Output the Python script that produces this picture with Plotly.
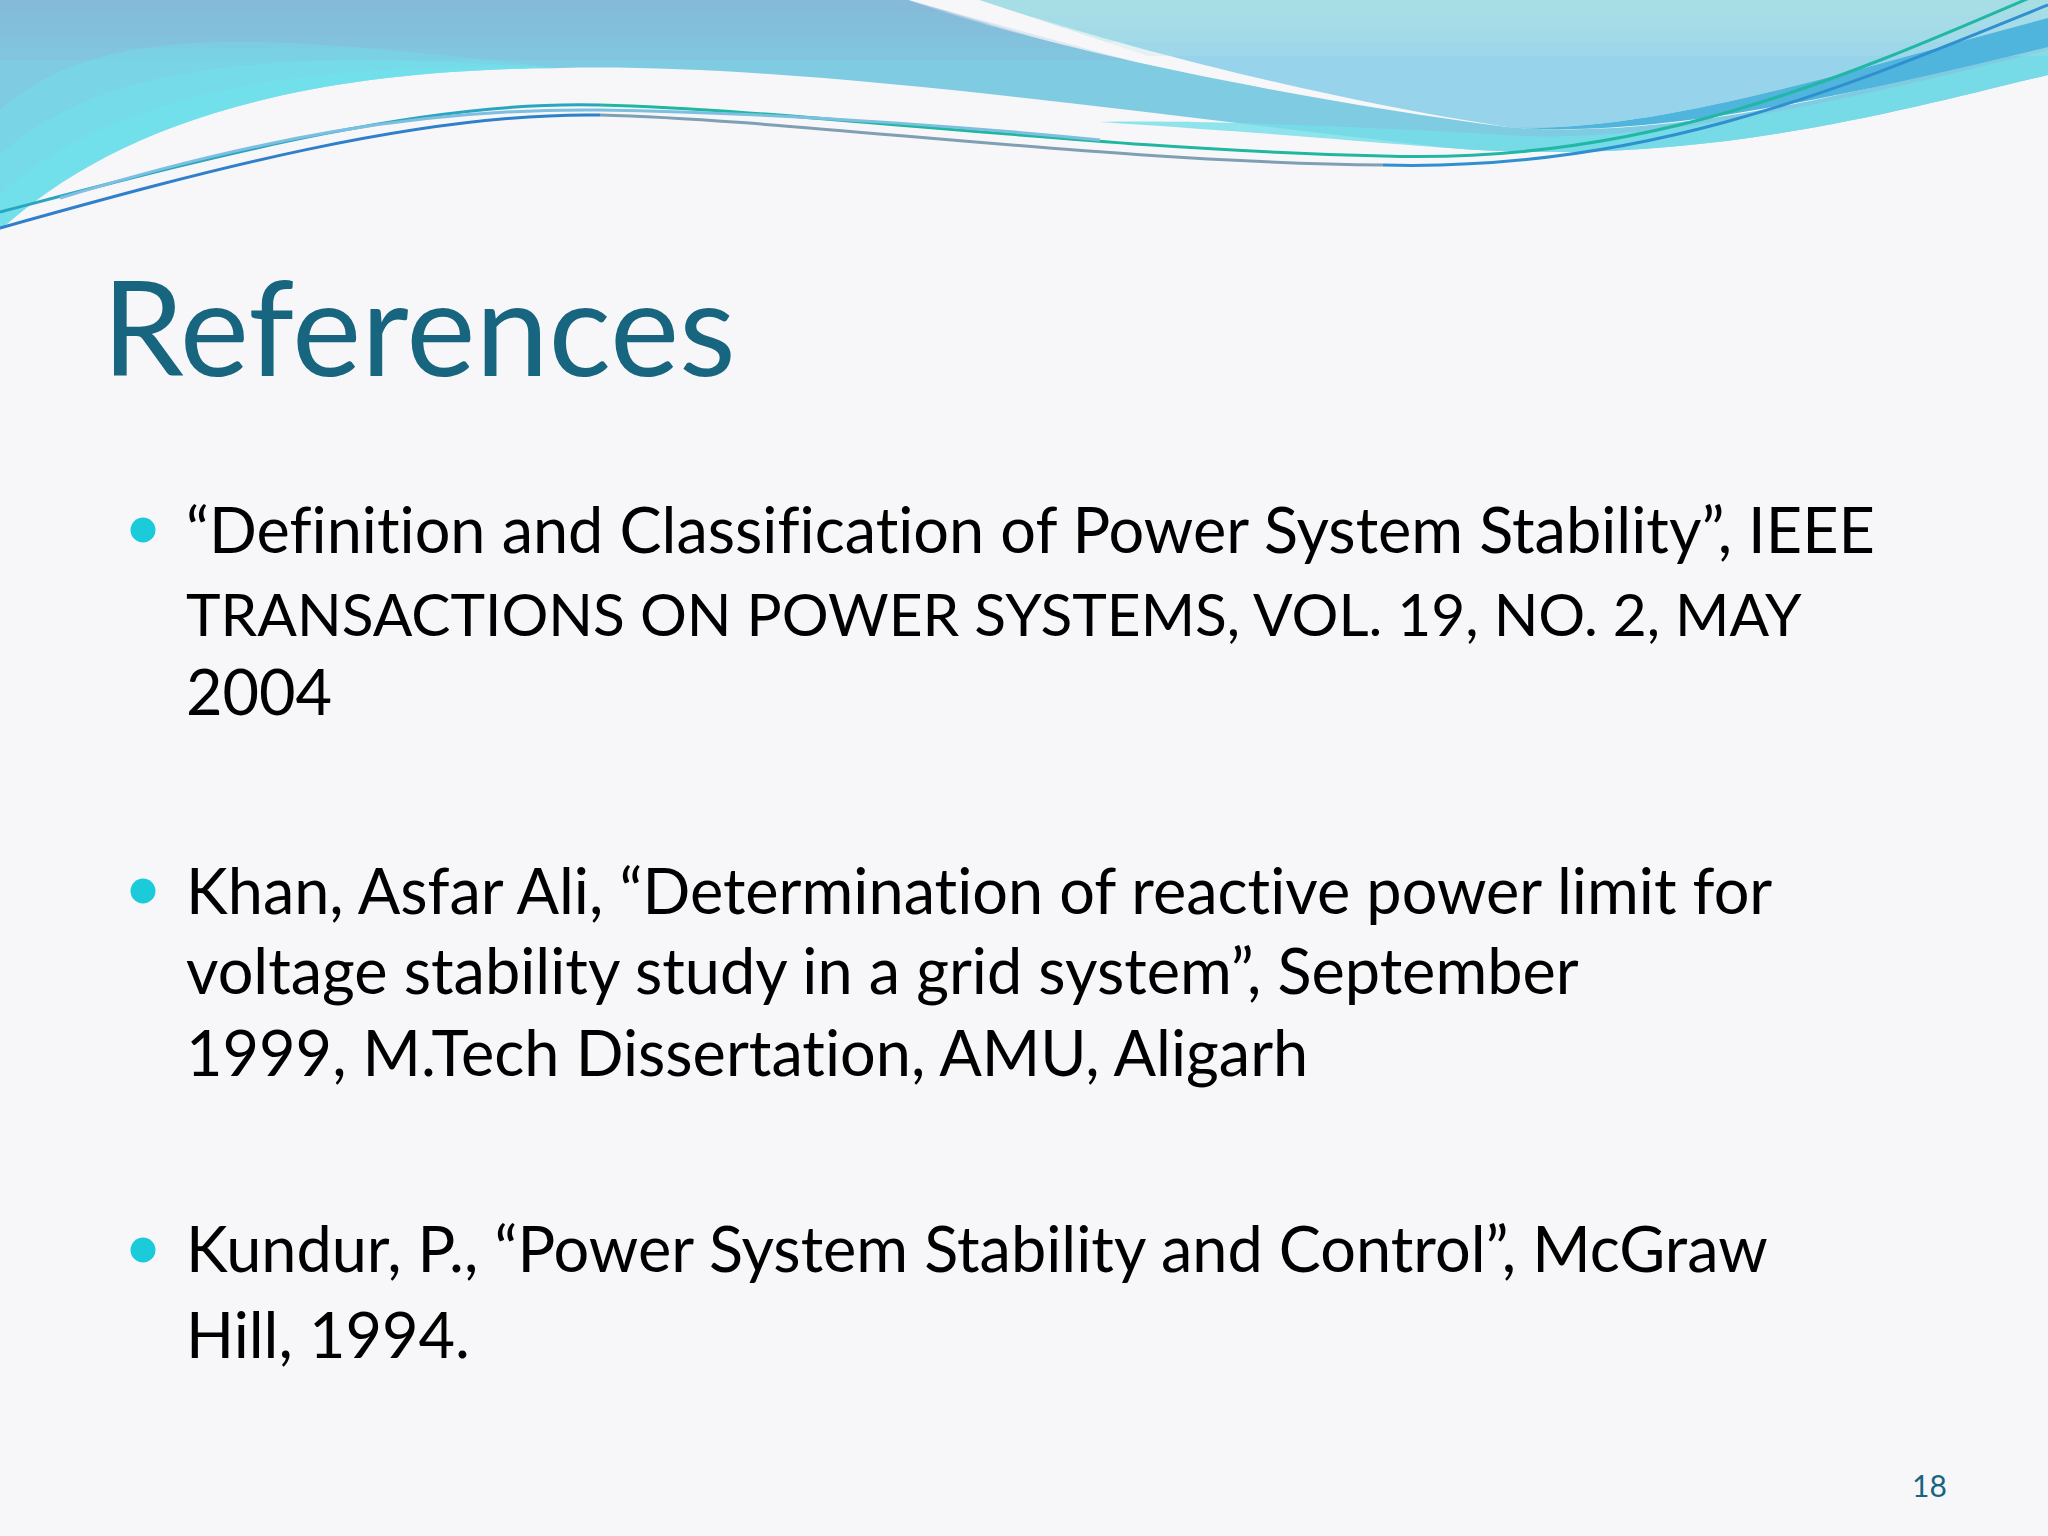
import plotly.graph_objects as go

# slide content
title = "References"
refs = [
    ["\u201cDefinition and Classification of Power System Stability\u201d, IEEE",
     "TRANSACTIONS ON POWER SYSTEMS, VOL. 19, NO. 2, MAY",
     "2004"],
    ["Khan, Asfar Ali, \u201cDetermination of reactive power limit for",
     "voltage stability study in a grid system\u201d, September",
     "1999, M.Tech Dissertation, AMU, Aligarh"],
    ["Kundur, P., \u201cPower System Stability and Control\u201d, McGraw",
     "Hill, 1994."],
]
page_no = "18"

# baselines of each text line (px from top of slide)
line_base = [[553, 636, 715], [914, 994, 1076], [1272, 1358]]
bullet_y = [530, 891, 1250]

W, H = 2048, 1536
body_size = 63
caps_size = 58.6
title_size = 131
teal = "#17657f"

fig = go.Figure()

# bullets
fig.add_trace(go.Scatter(x=[143] * len(bullet_y), y=bullet_y, mode="markers",
                         marker=dict(size=25, color="#1ccbd9", line=dict(width=0)),
                         hoverinfo="skip", showlegend=False))

# ---- top wave decoration ----
shapes = []


def blob(path, color, opacity=1.0):
    shapes.append(dict(type="path", layer="below", path=path, fillcolor=color,
                       opacity=opacity, line=dict(width=0)))


# big left wave incl. cyan band
blob("M0,0 L908,0 C1050,50 1300,100 1507,127 C1650,140 1850,100 2048,40 "
     "L2048,75 C1900,110 1700,168 1450,148 C1150,115 800,62 560,68 "
     "C260,70 100,140 0,230 Z", "#7fcbe1")
# darker blue-grey toward the top (stepped, soft)
for h, xe in [(12, 950), (24, 990), (36, 1030), (48, 1072), (60, 1128)]:
    blob(f"M0,0 L908,0 L{xe},{h} L0,{h} Z", "#8ab4d4", 0.22)
# cyan toward the lower left, hugging the white edge
for d in [35, 75, 120]:
    blob(f"M0,230 C100,140 260,70 560,68 C260,{70 - d * 0.3:.0f} 100,{140 - d} 0,{230 - d} Z",
         "#6eeaf3", 0.3)
# cyan band under the right wave
blob("M1100,122 C1300,135 1400,145 1450,148 C1700,168 1900,110 2048,75 "
     "L2048,50 C1850,100 1650,145 1507,135 C1350,126 1200,120 1100,122 Z", "#74dde8", 0.8)

# right light wave
blob("M980,0 C1100,40 1300,95 1507,127 C1650,135 1850,70 2048,18 L2048,0 Z", "#98d3ec")
for h in [14, 28, 42, 56]:
    blob(f"M980,0 L{980 + 3 * h},{h} L2048,{h} L2048,0 Z", "#aee3e4", 0.25)
# darker ribbon
blob("M1507,127 C1650,135 1850,70 2048,18 L2048,47 C1850,95 1650,140 1507,127 Z", "#4fb5dc")

# thin swooping lines
lines = [
    ("M0,212 C200,160 420,100 600,105", "#2aa5bf"),
    ("M600,105 C800,110 1100,150 1383,156", "#1fb7a0"),
    ("M1383,156 C1650,165 1850,75 2048,-10", "#22b7a4"),
    ("M0,228 C200,172 420,112 600,115", "#2f7fcb"),
    ("M600,115 C800,120 1100,162 1383,165", "#7f9fb5"),
    ("M1383,165 C1650,172 1850,85 2048,5", "#2f8fcf"),
    ("M60,198 C250,140 420,108 600,110 C800,113 1000,130 1100,140", "#7cbfe0"),
]
for p, c in lines:
    shapes.append(dict(type="path", layer="below", path=p, line=dict(color=c, width=3)))

annotations = []


def no_liga(s):
    # break the fi / ti ligatures of Lato so the text looks like Calibri
    return s.replace("fi", "f\u200ci").replace("ti", "t\u200ci")


def put(text, x, base, size, color, xanchor="left"):
    annotations.append(dict(text=no_liga(text), x=x, y=base - 0.387 * size,
                            xref="x", yref="y", xanchor=xanchor, yanchor="middle",
                            showarrow=False,
                            font=dict(family="Lato", size=size, color=color)))


put(title, 100, 376, title_size, teal)
for lines_, bases in zip(refs, line_base):
    for t, b in zip(lines_, bases):
        size = caps_size if t.isupper() and len(t) > 10 else body_size
        put(t, 184, b, size, "#000000")
put(page_no, 1929, 1497, 30, teal, xanchor="center")

fig.update_layout(
    width=W, height=H,
    margin=dict(l=0, r=0, t=0, b=0),
    paper_bgcolor="#f7f7f9", plot_bgcolor="#f7f7f9",
    xaxis=dict(range=[0, W], visible=False, fixedrange=True),
    yaxis=dict(range=[H, 0], visible=False, fixedrange=True),
    shapes=shapes, annotations=annotations,
    showlegend=False,
)

fig.write_html("out.html", config={"displayModeBar": False},
               post_script="document.body.style.margin='0';document.body.style.overflow='hidden';")
